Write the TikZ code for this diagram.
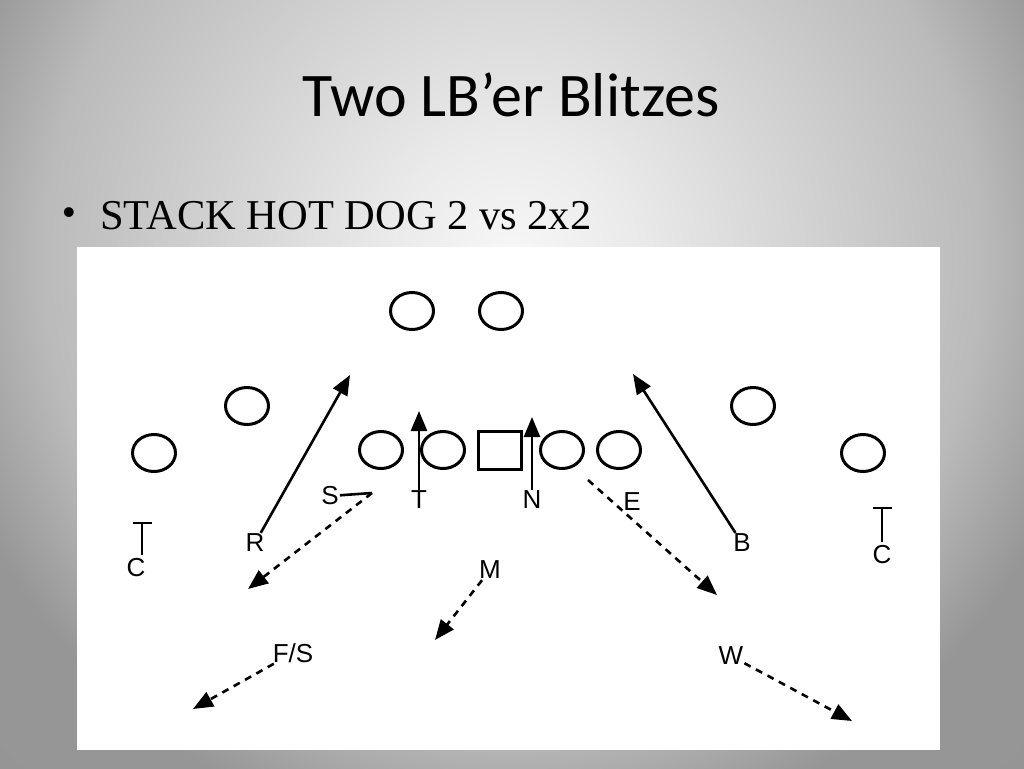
\documentclass[tikz,border=0pt]{standalone}
\usepackage{fontspec}
\newfontfamily\titlefont{Carlito}
\newfontfamily\bodyfont{Liberation Serif}
\newfontfamily\markfont{Liberation Sans}
\usetikzlibrary{positioning,arrows.meta,shapes.geometric}

\pgfdeclareradialshading{slideshade}{\pgfpoint{0pt}{0pt}}{color(0pt)=(white!97!black); color(120pt)=(white!92!black); color(470pt)=(white!73!black); color(590pt)=(white!59!black); color(900pt)=(white!58!black)}

\begin{document}
\begin{tikzpicture}[x=1pt,y=-1pt]
% Slide background
\useasboundingbox (0,0) rectangle (1024,768);
\begin{scope}
  \clip (0,0) rectangle (1024,768);
  \node [inner sep=0pt] (glow) at (512,260) {\pgfuseshading{slideshade}};
\end{scope}
\node [font=\titlefont\fontsize{62}{70}\selectfont,anchor=base] (title) at (511,116) {Two LB’er Blitzes};
\node [font=\markfont\fontsize{36}{40}\selectfont] (dot) at (69,216) {•};
\node [font=\bodyfont\fontsize{42.5}{46}\selectfont,anchor=base west,inner sep=0pt] (item) at (100,229) {STACK HOT DOG 2 vs 2x2};
\fill [white] (77,247) rectangle (940,750);
% Draw Play
   \begin{scope}[ node distance=60pt,on grid,>={Triangle[length=20pt,width=16pt]},
                   man/.style={ellipse,draw,line width=3pt,minimum width=43pt,minimum height=37pt,inner sep=0pt},
                   snap/.style={rectangle,draw,line width=3pt,minimum width=43pt,minimum height=38pt,inner sep=0pt},
                   def/.style={font=\markfont\fontsize{26}{26}\selectfont,inner sep=1pt},
                   run/.style={->,line width=2.6pt},
                   blitz/.style={run,dash pattern=on 7pt off 6pt} ]
     % offense
     \node [snap] (ctr)   at (500,450)           {};
     \node [man]  (lg)    [left=57pt of ctr]     {};
     \node [man]  (lt)    [left=62pt of lg]      {};
     \node [man]  (rg)    [right=62pt of ctr]    {};
     \node [man]  (rt)    [right=57pt of rg]     {};
     \node [man]  (hbl)   at (412,311)           {};
     \node [man]  (hbr)   [right=89pt of hbl]    {};
     \node [man]  (slotl) at (247,406)           {};
     \node [man]  (slotr) at (753,406)           {};
     \node [man]  (wrl)   at (154,453)           {};
     \node [man]  (wrr)   at (863,453)           {};
     % arrow ends
     \coordinate (ttip)   at (419,411);
     \coordinate (ntip)   at (532,417);
     \coordinate (rtip)   at (350,375);
     \coordinate (btip)   at (633,374);
     \coordinate (sbend)  at (372,493);
     \coordinate (stip)   at (248,589);
     \coordinate (estart) at (588,480);
     \coordinate (etip)   at (717,595);
     \coordinate (mtip)   at (435,640);
     \coordinate (fstip)  at (193,709);
     \coordinate (wtip)   at (852,721);
     % defense
     \node [def]  (T)     at (419,500)  {T} edge [run] (ttip);
     \node [def]  (N)     at (532,500)  {N} edge [run] (ntip);
     \node [def]  (R)     at (255,543)  {R} edge [run] (rtip);
     \node [def]  (B)     at (742,543)  {B} edge [run] (btip);
     \node [def]  (S)     at (330,496)  {S};
     \node [def]  (E)     at (632,502)  {E};
     \node [def]  (M)     at (490,570)  {M} edge [blitz] (mtip);
     \node [def]  (FS)    at (293,653)  {F/S} edge [blitz] (fstip);
     \node [def]  (W)     at (731,656)  {W} edge [blitz] (wtip);
     \node [def]  (cl)    at (136,568)  {C};
     \node [def]  (cr)    at (882,555)  {C};
     \draw [line width=2.6pt] (S) -- (sbend);
     \draw [blitz] (sbend) -- (stip);
     \draw [blitz] (estart) -- (etip);
     % corner marks
     \draw [line width=2.6pt] (133,523) -- (152,523) (142,523) -- (142,555);
     \draw [line width=2.6pt] (873,508) -- (892,508) (882,508) -- (882,542);
   \end{scope}
\end{tikzpicture}
\end{document}
